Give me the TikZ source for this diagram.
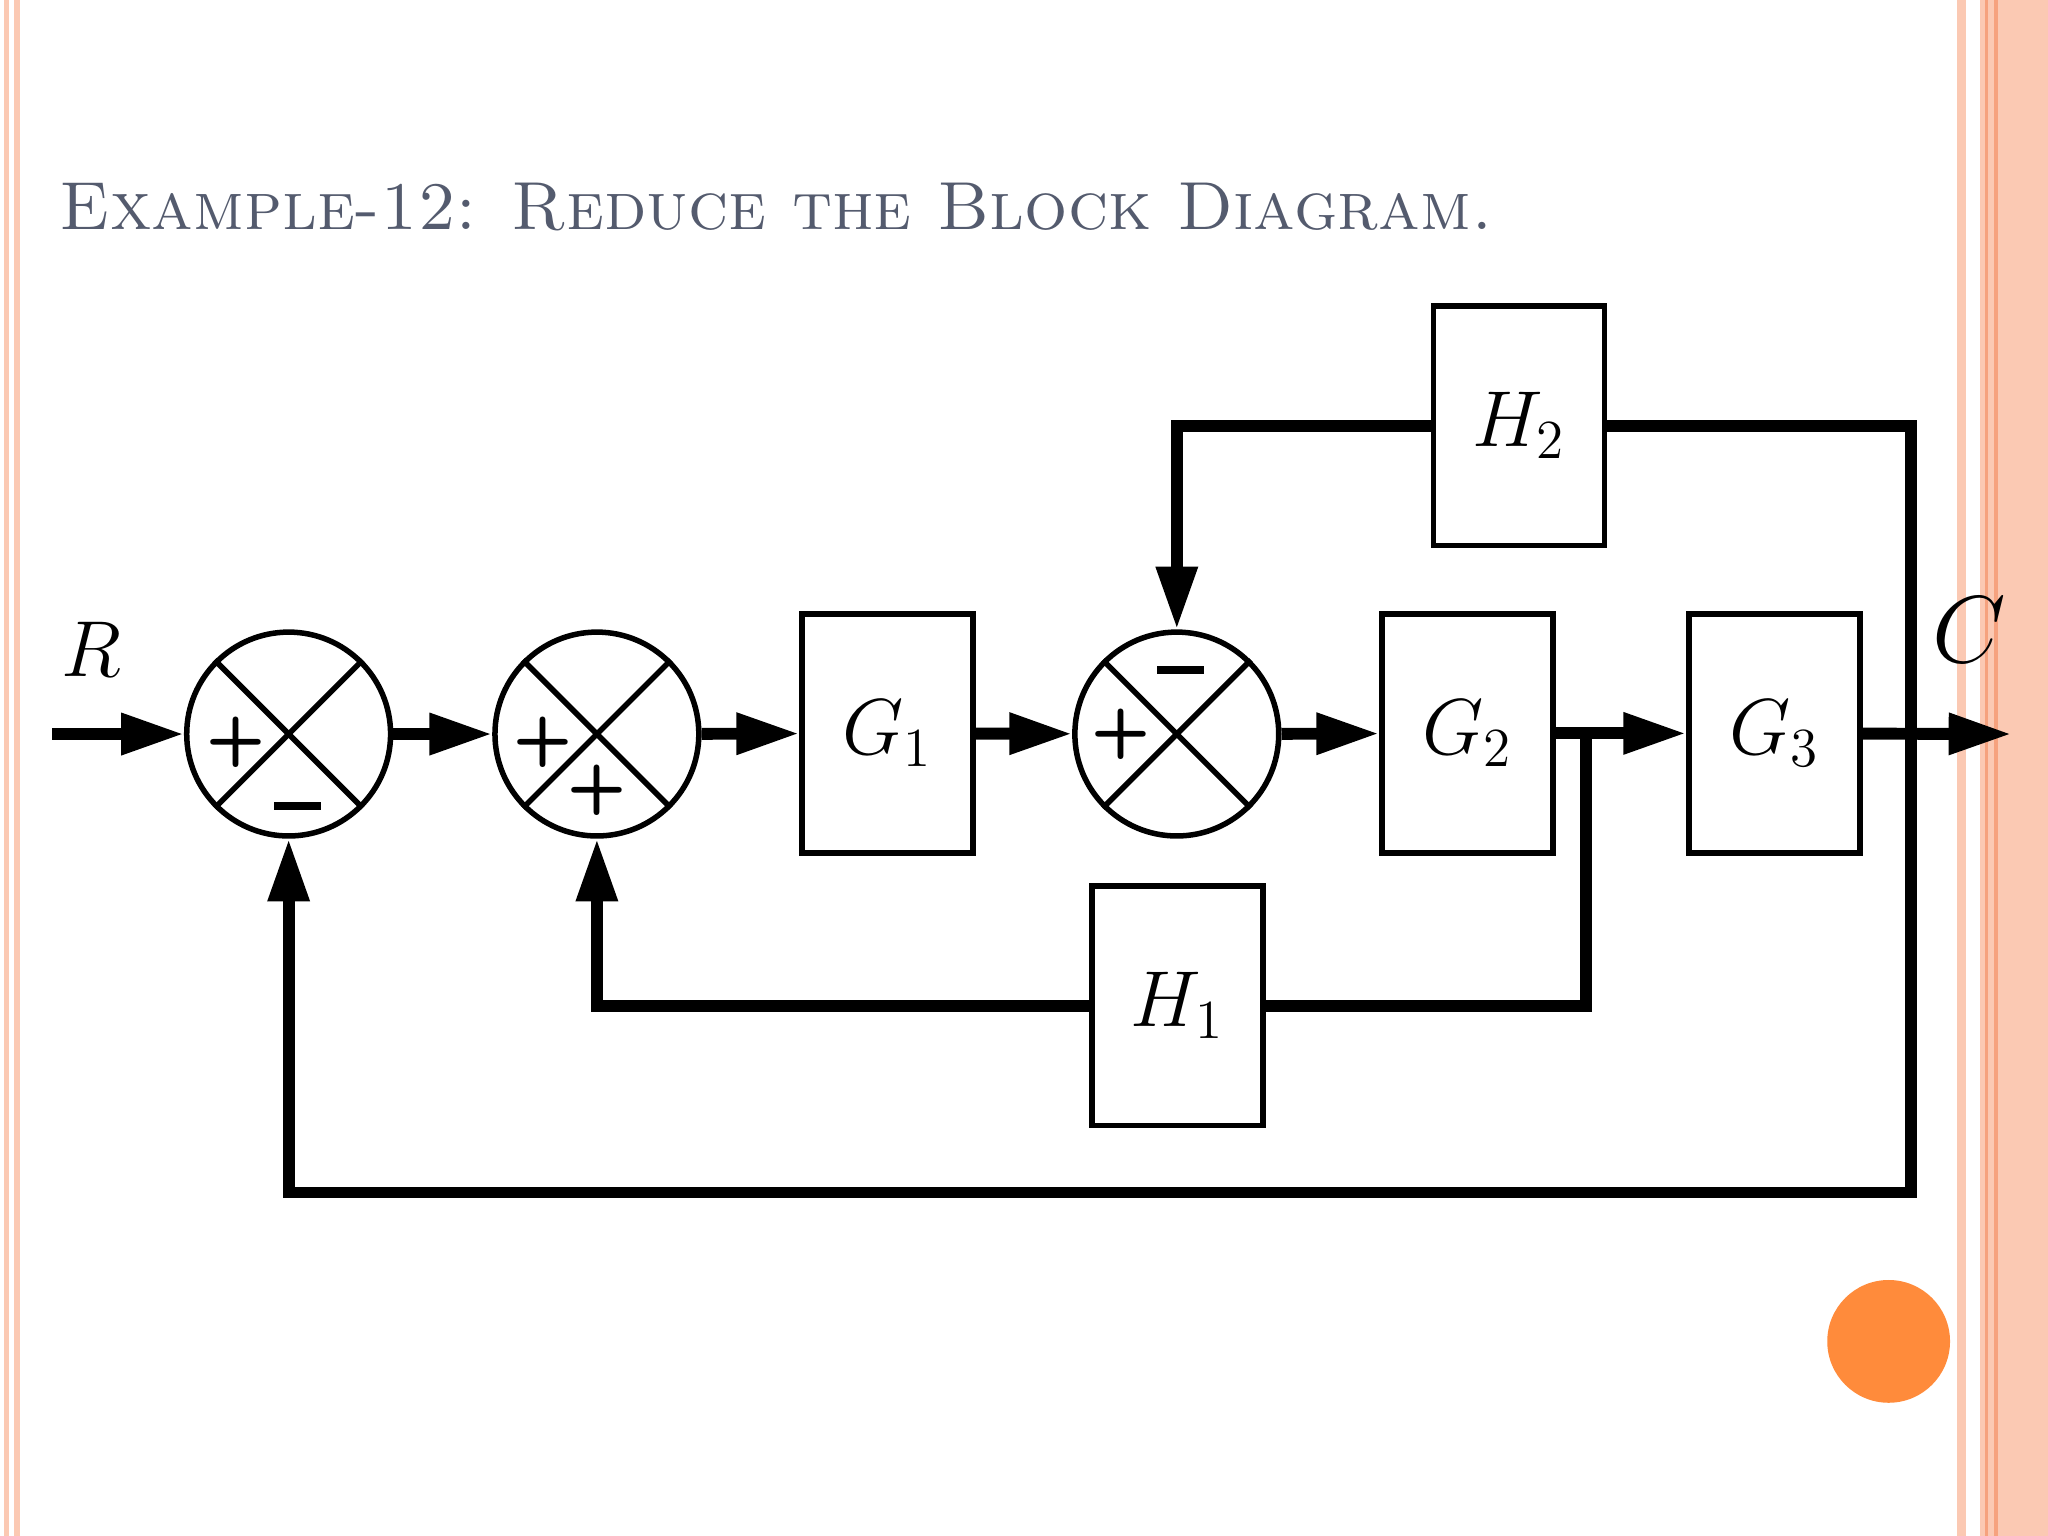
\documentclass[tikz,border=0pt]{standalone}
\usepackage{amsmath}
\usetikzlibrary{arrows.meta, positioning, calc}
\definecolor{titlegray}{HTML}{545B6E}
\definecolor{stripe}{HTML}{FBC9B3}
\definecolor{stripedark}{HTML}{F6A27E}
\definecolor{dotorange}{HTML}{FF8B3B}
\tikzset{>={Triangle[length=0.48cm,width=0.30cm]},
  block/.style={draw, line width=1.2pt, minimum width=1.31cm, minimum height=1.83cm, inner sep=0pt, font=\fontsize{18}{22}\selectfont},
  summer/.style={draw, circle, line width=1.2pt, minimum size=1.56cm, inner sep=0pt},
  sig/.style={line width=2.6pt},
  sign/.style={font=\sffamily\fontsize{15}{15}\selectfont, inner sep=0pt}}
\begin{document}
\begin{tikzpicture}[x=0.01cm,y=-0.01cm]
	\useasboundingbox (0,0) rectangle (1568,1176);
	\fill[white] (0,0) rectangle (1568,1176);

	%slide decoration
	\draw[stripe, line width=1.2pt] (5,0) -- (5,1176);
	\draw[stripe, line width=1.2pt] (13,0) -- (13,1176);
	\draw[stripe, line width=2pt] (1502,0) -- (1502,1176);
	\fill[stripe] (1516,0) rectangle (1568,1176);
	\draw[stripedark, line width=0.8pt] (1521,0) -- (1521,1176);
	\draw[stripedark, line width=0.8pt] (1528,0) -- (1528,1176);
	\fill[dotorange] (1446,1027) circle [radius=47];

	\node[anchor=base west, inner sep=0pt, titlegray, font=\fontsize{14.8}{18}\selectfont\scshape] (title) at (45,176) {Example-12: Reduce the Block Diagram.};

	%summing points
	\node[summer] (s1) at (221,562) {};
	\node[summer] (s2) at (457,562) {};
	\node[summer] (s3) at (901,562) {};
	\foreach \s in {s1,s2,s3}{
		\draw[line width=1.2pt] (\s.north west) -- (\s.south east);
		\draw[line width=1.2pt] (\s.north east) -- (\s.south west);
	}
	\node[sign] at (181,568) {\textbf{+}};
	\node[sign] at (228,617) {\rule{0.36cm}{1.6pt}};
	\node[sign] at (416,568) {\textbf{+}};
	\node[sign] at (457,605) {\textbf{+}};
	\node[sign] at (858,562) {\textbf{+}};
	\node[sign] at (904,513) {\rule{0.36cm}{1.6pt}};

	%blocks
	\node[block] (g1) at (679.5,561.5) {$G_1$};
	\node[block] (g2) at (1123.5,561.5) {$G_2$};
	\node[block] (g3) at (1358.5,561.5) {$G_3$};
	\node[block] (h2) at (1163,326) {$H_2$};
	\node[block] (h1) at (901.5,770) {$H_1$};

	\node[font=\fontsize{18}{22}\selectfont] (r) at (70,497) {$R$};
	\node[font=\fontsize{20}{22}\selectfont] (c) at (1508,482) {$C$};

	\coordinate (in) at (40,562);
	\coordinate (out) at (1540,562);
	\coordinate (tap1) at (1214,562);
	\coordinate (tap2) at (1463,562);

	%forward path
	\draw[sig,->] (in) -- (s1);
	\draw[sig,->] (s1) -- (s2);
	\draw[sig,->] (s2) -- (g1);
	\draw[sig,->] (g1) -- (s3);
	\draw[sig,->] (s3) -- (g2);
	\draw[sig,->] (g2) -- (g3);
	\draw[sig,->] (g3) -- (out);

	%feedback paths
	\draw[sig] (tap2) |- (h2);
	\draw[sig,->] (h2) -| (s3);
	\draw[sig] (tap1) |- (h1);
	\draw[sig,->] (h1) -| (s2);
	\draw[sig,->] (tap2) |- (221,913) -- (s1);
\end{tikzpicture}
\end{document}
